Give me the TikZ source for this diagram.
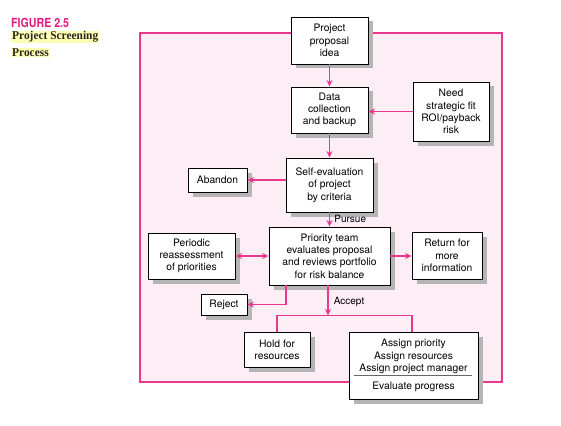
\documentclass[tikz,border=0pt]{standalone}
\usepackage{fontspec}
\setmainfont{TeX Gyre Heros}
\newfontfamily\figfont[FakeStretch=0.85]{TeX Gyre Heros}
\newfontfamily\capfont[FakeStretch=0.95]{Liberation Serif}
\usetikzlibrary{arrows.meta,calc}
\definecolor{pinkline}{HTML}{E8378C}
\definecolor{pinkfill}{HTML}{FDEDF4}
\definecolor{shgray}{HTML}{B5B5B5}
\definecolor{hl}{HTML}{FFFFB3}
\definecolor{figpink}{HTML}{E6197F}
\tikzset{
  box/.style={draw=black, line width=0.9pt, fill=white, inner sep=1pt, align=center,
    font=\fontsize{10.3}{12.3}\selectfont},
  shadowline/.style={draw=shgray, line width=4.5pt, line cap=butt, line join=miter},
  flow/.style={draw=pinkline, line width=1.7pt, -{Stealth[length=6.5pt,width=6pt]}},
  flowboth/.style={draw=pinkline, line width=1.7pt, {Stealth[length=6.5pt,width=6pt]}-{Stealth[length=6.5pt,width=6pt]}},
  link/.style={draw=pinkline, line width=1.7pt},
  lab/.style={font=\fontsize{10}{11}\selectfont, anchor=west, inner sep=1pt},
  capstyle/.style={anchor=west, fill=hl, inner sep=1pt, text=black!85, font=\capfont\bfseries\fontsize{12}{12}\selectfont}
}
% #1 name, #2 x, #3 y (centre), #4 width, #5 height, #6 text
\newcommand\mkbox[6]{%
  \draw[shadowline] ({#2+#4/2+2.25},{#3-#5/2+4.5}) -- ({#2+#4/2+2.25},{#3+#5/2+2.25}) -- ({#2-#4/2+4.5},{#3+#5/2+2.25});
  \node[box, minimum width=#4pt, minimum height=#5pt] (#1) at (#2,#3) {#6};}
\begin{document}
\begin{tikzpicture}[x=1pt, y=-1pt]
\useasboundingbox (0,0) rectangle (561,425);
\node[fill=white, draw=white, minimum width=561pt, minimum height=425pt, inner sep=0pt, anchor=north west] (page) at (0,0) {};
\draw[draw=pinkline, fill=pinkfill, line width=1.8pt] (140,33) rectangle (502,382);
% title
\node[anchor=west, text=figpink, inner sep=0pt, font=\figfont\bfseries\fontsize{12.5}{12.5}\selectfont] (fig) at (11,22.5) {FIGURE 2.5};
\node[capstyle] (cap1) at (11,37) {Project Screening};
\node[capstyle] (cap2) at (11,52.5) {Process};
% boxes
\mkbox{prop}{329.5}{40.5}{77}{47}{Project\\proposal\\idea}
\mkbox{data}{329.5}{110}{77}{46}{Data\\collection\\and backup}
\mkbox{need}{451}{111.5}{76}{59}{Need\\strategic fit\\ROI/payback\\risk}
\mkbox{self}{329.5}{185}{87}{54}{Self-evaluation\\of project\\by criteria}
\mkbox{aband}{217.5}{180}{59}{24}{Abandon}
\mkbox{prio}{329.5}{256}{121}{58}{Priority team\\evaluates proposal\\and reviews portfolio\\for risk balance}
\mkbox{peri}{191.5}{256}{87}{46}{Periodic\\reassessment\\of priorities}
\mkbox{ret}{447}{255.5}{70}{47}{Return for\\more\\information}
\mkbox{rej}{224}{304.5}{46}{21}{Reject}
\mkbox{hold}{277}{349.5}{66}{35}{Hold for\\resources}
\mkbox{assign}{413.5}{365.5}{129}{67}{\fontsize{10.3}{11.6}\selectfont Assign priority\\Assign resources\\Assign project manager\\[5.5pt]Evaluate progress}
\draw[black!60, line width=0.9pt] ($(assign.north west)+(5,44)$) coordinate (sepL) -- ($(assign.north east)+(-6,44)$) coordinate (sepR);
% connectors
\draw[flow] (prop) -- (data);
\draw[flow] (data) -- (self);
\draw[flow] (need.west) -- (need.west -| data.east);
\draw[flow] (aband.east -| self.west) -- (aband.east);
\draw[flow] (self) -- node[lab, pos=0.45, right=3pt] (pursue) {Pursue} (prio);
\draw[flowboth] (peri.east) -- (peri.east -| prio.west);
\coordinate (retin) at (ret.west |- peri.east);
\draw[flow] (peri.east -| prio.east) -- (retin);
\coordinate (rejtop) at ($(prio.south)+(-43.5,0)$);
\draw[flow] (rejtop) |- (rej.east);
\coordinate (split) at ($(prio.south)+(-1.5,30)$);
\draw[flow] ($(prio.south)+(-1.5,0)$) -- node[lab, pos=0.55, right=4pt] (accept) {Accept} (split);
\coordinate (splitL) at (hold.north |- split);
\coordinate (splitR) at ($(assign.north |- split)+(-1.5,0)$);
\draw[link] (hold.north) -- (splitL) -- (splitR) -- (splitR |- assign.north);
\end{tikzpicture}
\end{document}
